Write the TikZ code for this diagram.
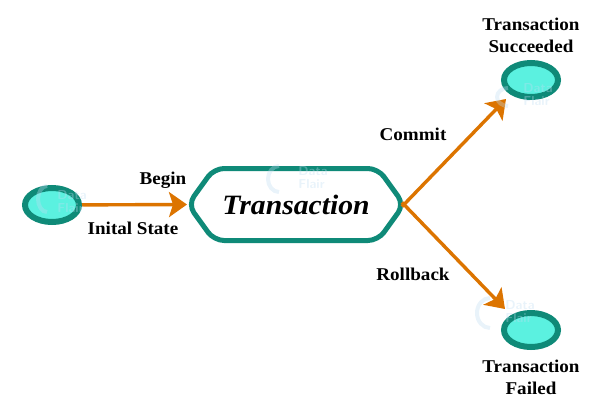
\documentclass[tikz,border=0pt]{standalone}
\usepackage{xcolor}
\usepackage{fontspec}
\setmainfont{Liberation Serif}[FakeStretch=1.06]
\usetikzlibrary{shapes,arrows.meta,positioning}
\definecolor{statefill}{HTML}{5BF1E0}
\definecolor{stateline}{HTML}{0F8A78}
\definecolor{flow}{HTML}{DC7400}
\definecolor{markblue}{HTML}{BFDDF2}

\begin{document}
\begin{tikzpicture}[x=1pt, y=-1pt,
    state/.style={ellipse, draw=stateline, fill=statefill, line width=6pt, minimum width=54pt, minimum height=34pt, inner sep=0pt},
    process/.style={rectangle, outer sep=0pt, minimum width=216pt, minimum height=72pt, inner sep=0pt, font=\fontsize{28}{32}\selectfont\bfseries\itshape},
    outline/.style={draw=stateline, line width=5pt, rounded corners=10pt},
    label/.style={font=\fontsize{18}{22}\selectfont\bfseries, align=center, inner sep=0pt},
    arrow/.style={-{Stealth[length=18pt, width=25pt, inset=4pt]}, line width=3.4pt, draw=flow},
    wmark/.style={font=\sffamily\bfseries\fontsize{#1}{#1}\selectfont, text=markblue, opacity=0.35, align=left, inner sep=0pt},
    wmarc/.style={draw=markblue, line width=#1, opacity=0.35}
]
\useasboundingbox (0, 0) rectangle (604, 410);

% States
\node[state] (start) at (52, 205) {};
\node[state] (okstate) at (531, 80) {};
\node[state] (failstate) at (531, 330) {};
\node[process] (txn) at (296, 204.5) {Transaction};
\draw[outline] (txn.north) -- ([xshift=-26pt]txn.north east) -- (txn.east) -- ([xshift=-26pt]txn.south east)
    -- ([xshift=26pt]txn.south west) -- (txn.west) -- ([xshift=26pt]txn.north west) -- cycle;

% Arrow ends
\coordinate (oktip) at (506, 99);
\coordinate (failtip) at (505, 309);

% Arrows
\draw[arrow, shorten >=1pt] (start) -- (txn.west);
\draw[arrow, shorten <=-3pt] (txn.east) -- (oktip);
\draw[arrow, shorten <=-3pt] (txn.east) -- (failtip);

% Labels
\node[label] (beginlabel) at (163, 180.5) {Begin};
\node[label] (initlabel) at (133, 228) {Inital State};
\node[label] (commitlabel) at (413, 134) {Commit};
\node[label] (rollbacklabel) at (413, 274) {Rollback};
\node[label] (oklabel) at (531, 35) {Transaction\\Succeeded};
\node[label] (faillabel) at (531, 377) {Transaction\\Failed};

% Watermarks
\node[wmark=13] (markleft) at (72, 202) {Data\\Flair};
\node[wmark=13] (markmid) at (313, 178) {Data\\Flair};
\node[wmark=13] (marktop) at (538, 95) {Data\\Flair};
\node[wmark=13] (markbot) at (520, 312) {Data\\Flair};
\draw[wmarc=4pt] (47, 212) arc (90:270:9 and 13);
\draw[wmarc=4pt] (279, 192) arc (90:270:11 and 13);
\draw[wmarc=4pt] (508, 106) arc (90:270:11 and 9);
\draw[wmarc=4pt] (490, 328) arc (90:270:13 and 15);

\end{tikzpicture}
\end{document}
